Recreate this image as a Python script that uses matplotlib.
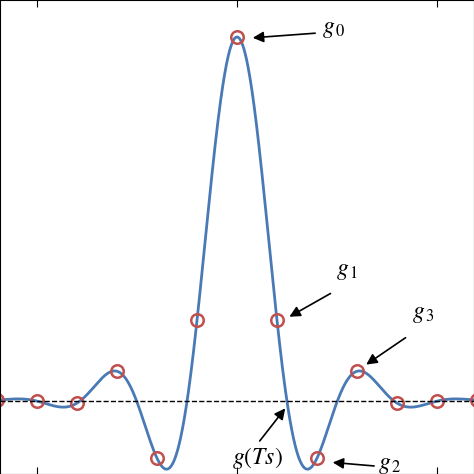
import numpy as np
import matplotlib
matplotlib.use("Agg")
import matplotlib.pyplot as plt

sample_t = np.arange(-6, 7)
sample_g = np.array([0.003, 0.0, -0.005, 0.082, -0.157, 0.2225, 1.0,
                     0.2225, -0.157, 0.082, -0.005, 0.0, 0.003])

fig = plt.figure(figsize=(4.74, 4.74), dpi=100)
ax = fig.add_axes([0, 0, 1, 1])
t = np.linspace(-6.5, 6.5, 2000)
curve = np.sum(sample_g[:, None] * np.sinc(t[None, :] - sample_t[:, None]), axis=0)
ax.plot(t, curve, color="#4a7ab5", lw=2)
ax.plot(sample_t, sample_g, "o", mfc="none", mec="#c0504d", mew=1.8, ms=9)
ax.axhline(0, color="black", ls="--", lw=1)
ax.set_xlim(-5.93, 5.93)
ax.set_ylim(-0.2, 1.1016)
ax.set_xticks([-5, 0, 5])
ax.set_yticks([])
ax.tick_params(axis="x", direction="in", top=True, labelbottom=False, length=5)

def px(x, y):
    return ((x - 237) / 40, (401 - y) / 364)

ap = dict(arrowstyle="-|>", color="black", lw=1.2, mutation_scale=16)
for label, tx, head, tail in [
    (r"$g_{\,\mathit{0}}$", (322, 40), (250, 38), (318, 33)),
    (r"$g_{\,\mathit{1}}$", (336, 282), (287, 318), (333, 292)),
    (r"$g_{\,\mathit{3}}$", (412, 325), (364, 366), (408, 336)),
    (r"$g_{\,\mathit{2}}$", (378, 476), (330, 462), (377, 466)),
    (r"$g(Ts)$", (232, 458), (287, 406), (258, 443)),
]:
    ax.annotate("", xy=px(*head), xytext=px(*tail), arrowprops=ap)
    ax.text(*px(*tx), label, ha="left", va="bottom" if label != r"$g(Ts)$" else "center",
            fontsize=17, math_fontfamily="stix")
fig.savefig("out.png", dpi=100)
